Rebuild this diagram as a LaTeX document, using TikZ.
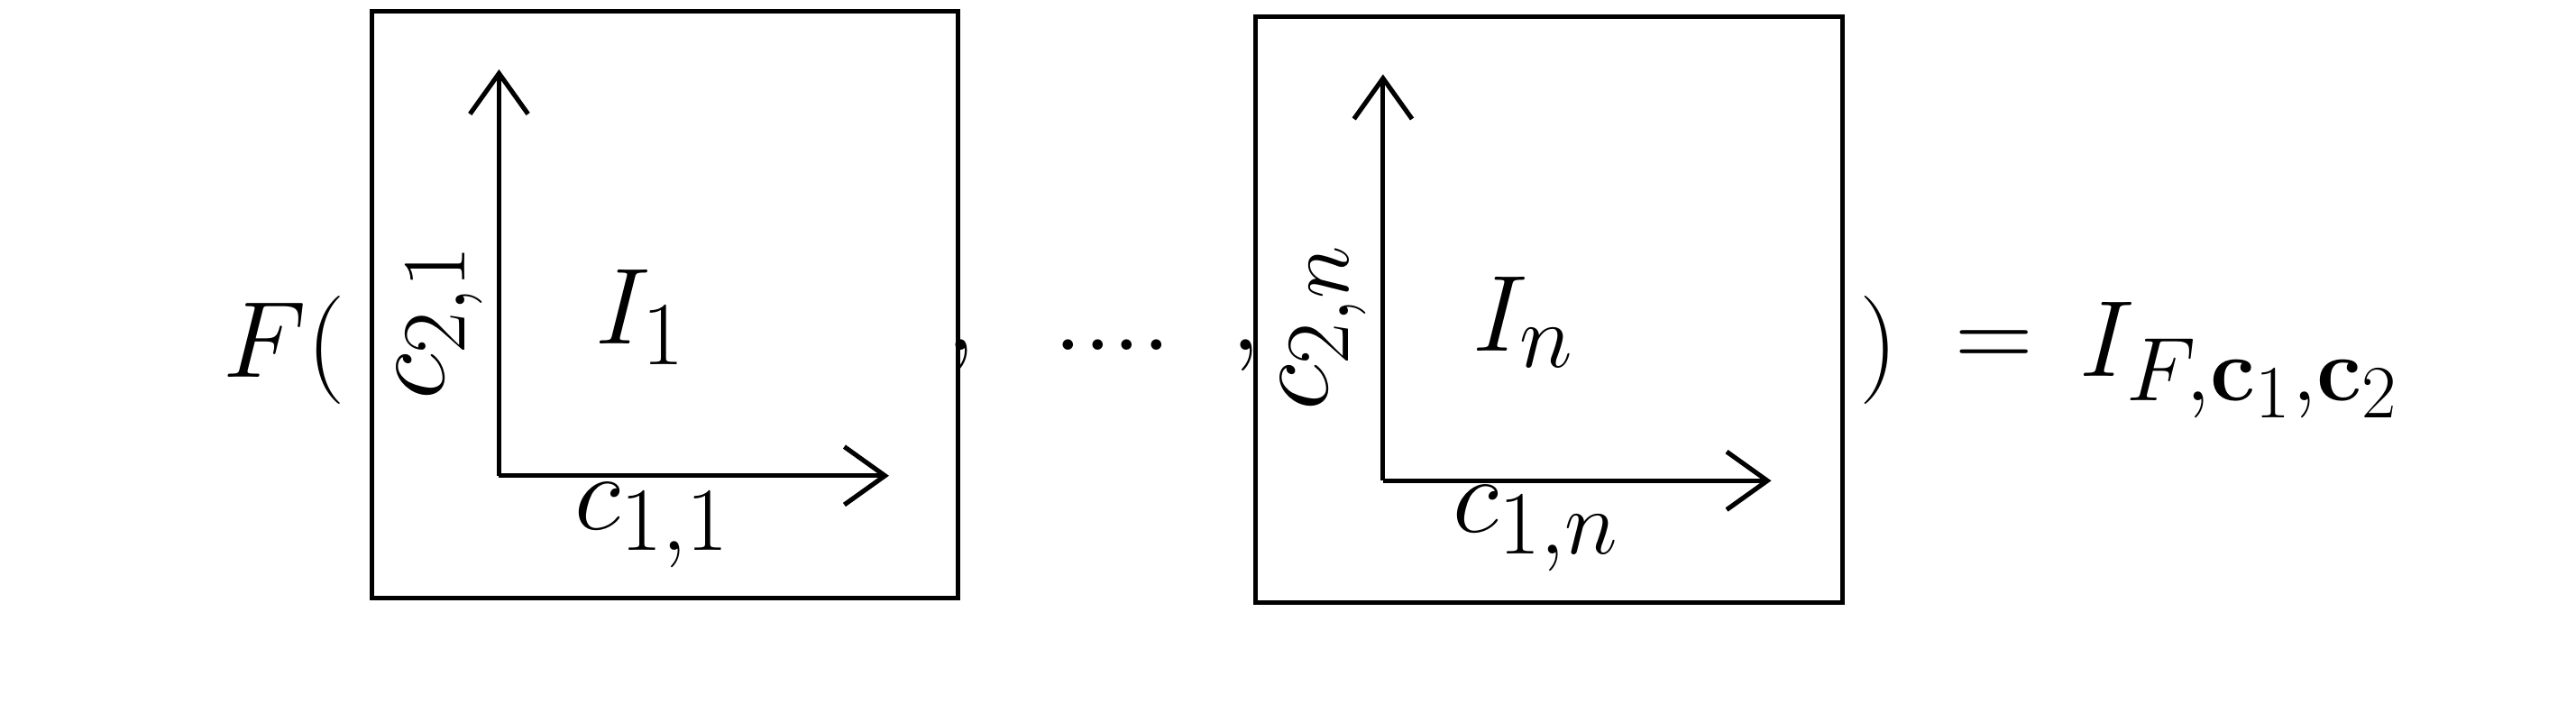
\documentclass[tikz,border=0pt]{standalone}
\usetikzlibrary{arrows.meta}
\begin{document}
\begin{tikzpicture}[x=0.02cm,y=-0.02cm,
  box/.style={draw,line width=1.6pt},
  ax/.style={line width=1.6pt,-{Straight Barb[length=14pt,width=20pt,line width=1.6pt]}},
  lbl/.style={font=\fontsize{24.88}{30}\selectfont,inner sep=0pt,scale=1.5}]
\useasboundingbox (0,0) rectangle (1559,437);
\node[lbl] (F) at (172,212) {$F($};
\draw[box] (225,7) rectangle (580,362);
\coordinate (o1) at (302,288);
\coordinate (y1) at (302,42);
\coordinate (x1) at (538,288);
\draw[ax] (o1) -- (y1);
\draw[ax] (o1) -- (x1);
\node[lbl,rotate=90] (c21) at (266,195) {$c_{2,1}$};
\node[lbl] (I1) at (388,192) {$I_1$};
\node[lbl] (c11) at (395,318) {$c_{1,1}$};
\node[lbl] (dots) at (668,215) {$,\;\;....\;\;,$};
\draw[box] (760,10) rectangle (1115,365);
\coordinate (o2) at (837,291);
\coordinate (y2) at (837,45);
\coordinate (x2) at (1072,291);
\draw[ax] (o2) -- (y2);
\draw[ax] (o2) -- (x2);
\node[lbl,rotate=90] (c2n) at (801,198) {$c_{2,n}$};
\node[lbl] (In) at (922,195) {$I_n$};
\node[lbl] (c1n) at (930,320) {$c_{1,n}$};
\node[lbl] (rp) at (1137,212) {$)$};
\node[lbl] (eq) at (1207,212) {$=$};
\node[lbl,anchor=west] (IF) at (1258,218) {$I_{F,\mathbf{c}_1,\mathbf{c}_2}$};
\end{tikzpicture}
\end{document}
